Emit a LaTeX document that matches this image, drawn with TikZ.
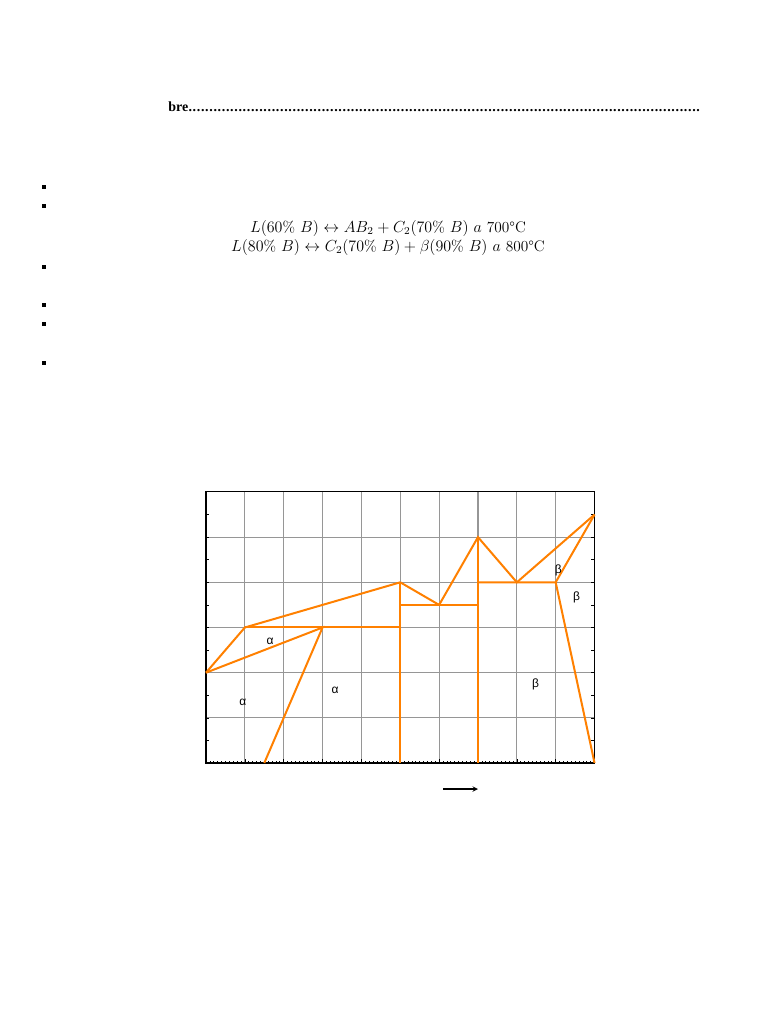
\documentclass[tikz,border=0pt]{standalone}
\usepackage{fontspec}
\newfontfamily\greekfont{Liberation Sans}
\newfontfamily\headfont{Liberation Serif}
\definecolor{phaseorange}{RGB}{255,128,0}
\definecolor{gridgray}{RGB}{150,150,150}

\begin{document}
\begin{tikzpicture}[x=0.75pt,y=-0.75pt,>=stealth,
    phase line/.style={draw=phaseorange,line width=1.5pt,line join=miter},
    grid line/.style={draw=gridgray,line width=0.8pt},
    axis tick/.style={draw=black,line width=0.5pt},
    phase label/.style={font=\greekfont\fontsize{9}{10}\selectfont,inner sep=0pt},
    bullet/.style={fill=black,inner sep=0pt,minimum size=3.3pt},
    reaction/.style={font=\fontsize{11.5}{13}\selectfont,inner sep=0pt}]
  \useasboundingbox (0,0) rectangle (768,1024);

  % heading
  \node[anchor=west,inner sep=0pt,text width=399pt,font=\headfont\bfseries\fontsize{10.5}{12}\selectfont] (head) at (168,107)
    {bre\xleaders\hbox to 3.1pt{\hss.\hss}\hfill\mbox{}};

  % bullets
  \foreach \by [count=\k] in {187,206,267,305,324,363}
    \node[bullet] (b\k) at (44,\by) {};

  % reactions
  \node[reaction] (r1) at (388,228) {$L(60\%\ B) \leftrightarrow AB_2 + C_2(70\%\ B)\ a$ 700°C};
  \node[reaction] (r2) at (388,247) {$L(80\%\ B) \leftrightarrow C_2(70\%\ B) + \beta(90\%\ B)\ a$ 800°C};

  % diagram
  \begin{scope}[shift={(206,763)},x=29.14pt,y=33.88pt]
    \foreach \i in {1,...,9}
      \draw[grid line] (\i,0) -- (\i,6);
    \foreach \j in {1,...,5}
      \draw[grid line] (0,\j) -- (10,\j);
    \foreach \t in {0.5,1,...,5.5} {
      \draw[axis tick] (0,\t) -- ++(2.5pt,0);
      \draw[axis tick] (10,\t) -- ++(-2.5pt,0);
    }
    \foreach \i in {1,...,99}
      \draw[axis tick] (\i/10,0) -- ++(0,1.5pt);
    \foreach \i in {1,...,9}
      \draw[axis tick] (\i,0) -- ++(0,3pt);
    \draw[black,line width=0.8pt] (0,0) rectangle (10,6);

    \coordinate (A) at (0,2);
    \coordinate (lA) at (1,3);
    \coordinate (sA) at (3,3);
    \coordinate (sA0) at (1.5,0);
    \coordinate (AB) at (5,4);
    \coordinate (ABe) at (5,3);
    \coordinate (AB0) at (5,0);
    \coordinate (E1) at (6,3.5);
    \coordinate (E1l) at (5,3.5);
    \coordinate (E1r) at (7,3.5);
    \coordinate (C) at (7,5);
    \coordinate (C0) at (7,0);
    \coordinate (E2) at (8,4);
    \coordinate (E2l) at (7,4);
    \coordinate (sB) at (9,4);
    \coordinate (B) at (10,5.5);
    \coordinate (B0) at (10,0);

    \draw[phase line] (A) -- (lA) -- (AB);
    \draw[phase line] (A) -- (sA) -- (sA0);
    \draw[phase line] (lA) -- (ABe);
    \draw[phase line] (AB) -- (AB0);
    \draw[phase line] (AB) -- (E1) -- (C) -- (E2) -- (B);
    \draw[phase line] (E1l) -- (E1r);
    \draw[phase line] (C) -- (C0);
    \draw[phase line] (E2l) -- (sB) -- (B);
    \draw[phase line] (sB) -- (B0);

    \node[phase label] (a1) at (1.65,2.7) {α};
    \node[phase label] (a2) at (0.95,1.35) {α};
    \node[phase label] (a3) at (3.32,1.6) {α};
    \node[phase label] (be1) at (9.07,4.27) {β};
    \node[phase label] (be2) at (9.54,3.67) {β};
    \node[phase label] (be3) at (8.48,1.73) {β};
  \end{scope}

  % composition arrow
  \coordinate (arrS) at (443,789);
  \coordinate (arrE) at (478,789);
  \draw[->,line width=0.8pt] (arrS) -- (arrE);
\end{tikzpicture}
\end{document}
